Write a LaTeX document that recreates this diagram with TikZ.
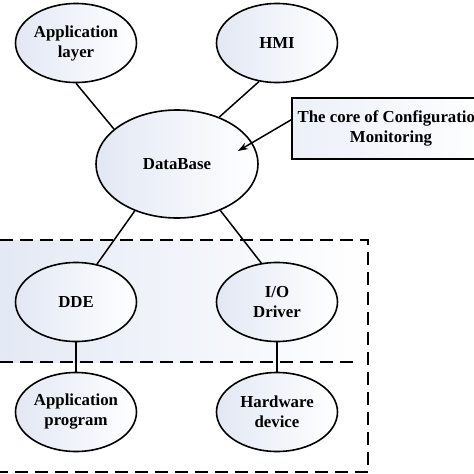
\documentclass[tikz,border=0pt]{standalone}
\usepackage{fontspec}
\setmainfont{Liberation Serif}
\usetikzlibrary{arrows.meta,shapes.geometric}
\definecolor{tintblue}{RGB}{226,232,244}
\definecolor{paleblue}{RGB}{236,240,248}
\tikzset{
    lbl/.style={font=\fontsize{16.8}{20}\selectfont\bfseries},
    unit/.style={ellipse, draw, line width=1.6pt, minimum width=121pt, minimum height=79pt,
        inner sep=0pt, align=center, left color=tintblue, right color=white, lbl},
    note/.style={rectangle, draw, line width=1.6pt, minimum width=198pt, minimum height=61pt,
        inner sep=2pt, align=center, left color=paleblue, right color=white, lbl},
    link/.style={line width=1.5pt},
    zone/.style={line width=1.6pt, dash pattern=on 13pt off 7pt}
}
\begin{document}
\begin{tikzpicture}[x=1pt,y=-1pt]
    \useasboundingbox (0,0) rectangle (474,474);
    \clip (0,0) rectangle (474,474);
    % driver zone
    \shade[left color=tintblue, right color=white] (-20,240) rectangle (368,362);
    \draw[zone] (-20,240) -- (368,240) -- (368,472) -- (-20,472);
    \draw[zone] (-20,362) -- (360,362);
    % units
    \node[unit] (app) at (76,43) {Application\\layer};
    \node[unit] (hmi) at (277,43) {HMI};
    \node[unit, minimum width=162pt, minimum height=108pt] (db) at (177,164) {DataBase};
    \node[unit] (dde) at (76,302) {DDE};
    \node[unit] (io) at (277,302) {I/O\\Driver};
    \node[unit] (prog) at (76,412) {Application\\program};
    \node[unit] (hw) at (277,412) {Hardware\\device};
    \node[note] (core) at (391,128.5) {The core of Configuration\\Monitoring};
    \coordinate (tip) at (238,151);
    % links
    \draw[link] (app.south) -- (db.151);
    \draw[link] (hmi.245) -- (db.48);
    \draw[link] (db.228) -- (dde.61);
    \draw[link] (db.313) -- (io.112);
    \draw[link] (dde.south) -- (prog.north);
    \draw[link] (io.south) -- (hw.north);
    \draw[link, -{Stealth[length=10pt, width=7pt]}] (core.175) -- (tip);
\end{tikzpicture}
\end{document}
